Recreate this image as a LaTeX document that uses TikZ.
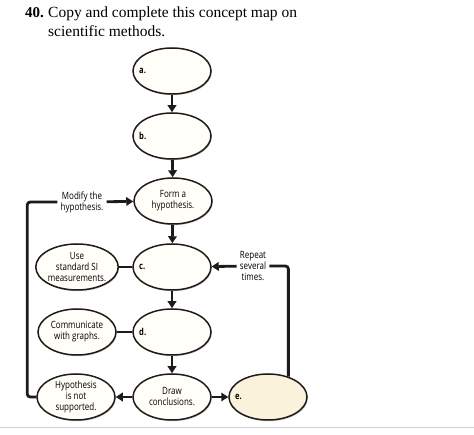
\documentclass[tikz,border=0pt]{standalone}
\usepackage{fontspec}
\setmainfont{Liberation Serif}
\newfontfamily\mapfont[FakeStretch=0.8]{Open Sans}
\usetikzlibrary{shapes.geometric,arrows.meta,shadows}
\definecolor{cream}{HTML}{FFFEF8}
\definecolor{creamy}{HTML}{FAF2DB}
\definecolor{ink}{HTML}{1E1A18}
\begin{document}
\begin{tikzpicture}[x=1pt,y=-1pt,
  bubble/.style={ellipse,draw=ink,line width=1.5pt,fill=cream,minimum width=78pt,minimum height=46pt,inner sep=0pt,align=center,
    font=\mapfont\fontsize{10}{11}\selectfont,
    drop shadow={shadow xshift=0.8pt,shadow yshift=-1.2pt,opacity=0.45}},
  lab/.style={anchor=west,inner sep=0pt,font=\mapfont\bfseries\fontsize{9.5}{10}\selectfont},
  txt/.style={align=center,inner sep=3pt,font=\mapfont\fontsize{10}{11}\selectfont},
  arr/.style={draw=ink,line width=2.8pt,-{Triangle[length=7pt,width=8.5pt]}},
  link/.style={draw=ink,line width=2.8pt}]
\fill[white] (0,0) rectangle (474,435);
\useasboundingbox (0,0) rectangle (474,435);
\draw[gray!35,line width=1pt] (0,428) -- (474,428);
% title
\node[anchor=base west,inner sep=0pt,font=\bfseries\fontsize{15}{19}\selectfont] (num) at (25,18) {40.};
\node[anchor=base west,inner sep=0pt,font=\fontsize{15.5}{19}\selectfont] (title1) at (48,18) {Copy and complete this concept map on};
\node[anchor=base west,inner sep=0pt,font=\fontsize{15.5}{19}\selectfont] (title2) at (48,37) {scientific methods.};
% main column
\node[bubble] (a) at (172,71) {};
\node[bubble] (b) at (172,136) {};
\node[bubble] (form) at (173,201) {Form a\\hypothesis.};
\node[bubble] (c) at (172,267) {};
\node[bubble] (d) at (172,332) {};
\node[bubble] (draw) at (172,397) {Draw\\conclusions.};
\node[bubble,fill=creamy] (e) at (268,397) {};
% left column
\node[bubble] (si) at (77,267) {Use\\standard SI\\measurements.};
\node[bubble] (comm) at (77,332) {Communicate\\with graphs.};
\node[bubble] (hyp) at (76,397) {Hypothesis\\is not\\supported.};
% letter labels
\node[lab] (la) at (139,71) {a.};
\node[lab] (lb) at (139,136) {b.};
\node[lab] (lc) at (139,267) {c.};
\node[lab] (ld) at (139,332) {d.};
\node[lab] (le) at (235,397) {e.};
% free texts
\node[txt] (modify) at (82,202) {Modify the\\hypothesis.};
\node[txt] (repeat) at (253,266) {Repeat\\several\\times.};
% connectors
\draw[arr] (a) -- (b);
\draw[arr] (b) -- (form);
\draw[arr] (form) -- (c);
\draw[arr] (c) -- (d);
\draw[arr] (d) -- (draw);
\draw[arr] (draw) -- (hyp);
\draw[arr] (draw) -- (e);
\draw[link] (si) -- (c);
\draw[link] (comm) -- (d);
\draw[link,rounded corners=3pt] (hyp.west) -- ++(-9,0) |- (modify.west);
\draw[arr] (modify) -- (form);
\draw[link,rounded corners=3pt] (e.45) |- (repeat.east);
\draw[arr] (repeat) -- (c);
\end{tikzpicture}
\end{document}
